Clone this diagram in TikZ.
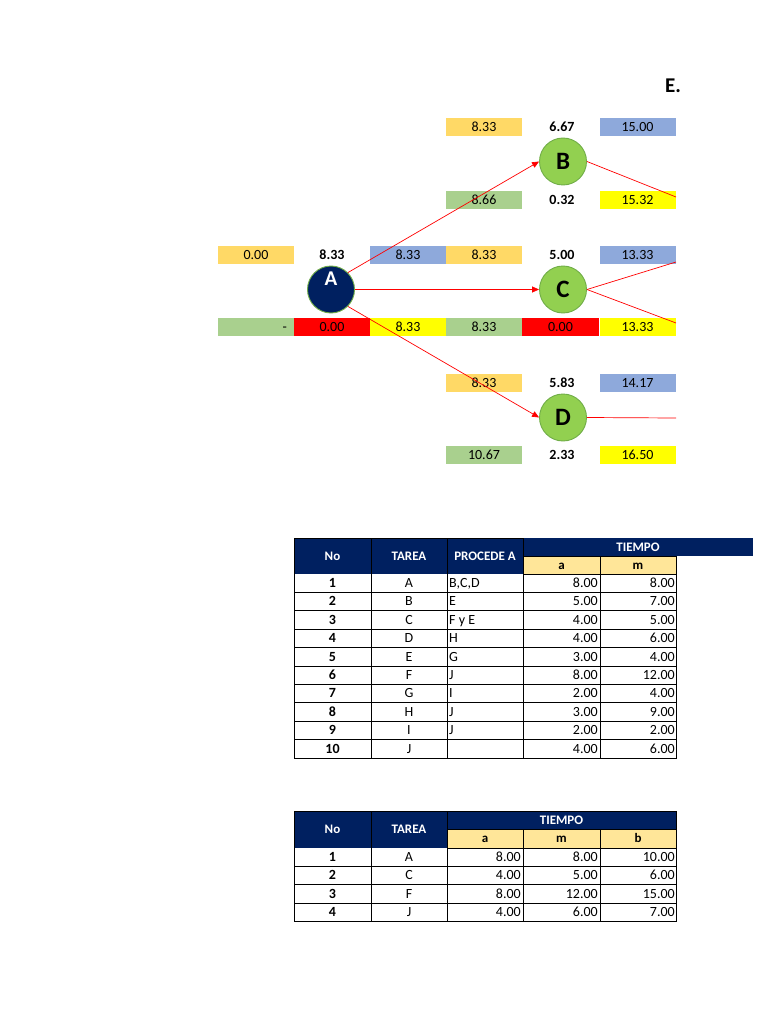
\documentclass[tikz,border=0pt]{standalone}
\usepackage{fontspec}
\setmainfont{Carlito}
\usetikzlibrary{arrows.meta,positioning}
\definecolor{marino}{HTML}{002060}
\definecolor{naranja}{HTML}{FFD966}
\definecolor{azul}{HTML}{8EA9DB}
\definecolor{verde}{HTML}{A9D08E}
\definecolor{amarillo}{HTML}{FFFF00}
\definecolor{rojo}{HTML}{FF0000}
\definecolor{verdenodo}{HTML}{92D050}
\definecolor{bordenodo}{HTML}{70AD47}
\definecolor{crema}{HTML}{FFE699}

\begin{document}
\begin{tikzpicture}[x=1pt, y=-1pt,
  caja/.style={minimum width=76pt, minimum height=18pt, inner sep=0pt, text height=8.5pt, text depth=0pt, font=\fontsize{14}{15}\selectfont},
  dato/.style={inner sep=0pt, text height=8.5pt, text depth=0pt, font=\fontsize{14}{15}\selectfont\bfseries},
  nodo/.style={circle, minimum size=47pt, inner sep=0pt, draw=bordenodo, line width=0.9pt, fill=verdenodo, font=\fontsize{25}{25}\selectfont\bfseries},
  flecha/.style={rojo, line width=0.7pt, -{Triangle[length=7pt,width=6pt]}},
  linea/.style={rojo, line width=0.7pt},
  encab/.style={inner sep=0pt, text height=8pt, text depth=0pt, font=\fontsize{13}{14}\selectfont\bfseries},
  celda/.style={inner sep=0pt, text height=8.5pt, text depth=0pt, font=\fontsize{14}{15}\selectfont},
  rejilla/.style={line width=0.8pt, black}
]
\useasboundingbox (0,0) rectangle (768,1024);

\node[anchor=base west, inner sep=0pt, font=\fontsize{21}{21}\selectfont\bfseries] (titulo) at (665,93) {E.};

% fila B
\node[caja, fill=naranja] (bIC) at (484,127) {8.33};
\node[dato] (bDur) at (562,127) {6.67};
\node[caja, fill=azul] (bTC) at (637.5,127) {15.00};
\node[caja, fill=verde] (bIL) at (484,200.5) {8.66};
\node[dato] (bHol) at (562,200.5) {0.32};
\node[caja, fill=amarillo] (bTL) at (637.5,200.5) {15.32};

% fila A y C
\node[caja, fill=naranja] (aIC) at (256,255) {0.00};
\node[dato] (aDur) at (332,255) {8.33};
\node[caja, fill=azul] (aTC) at (408,255) {8.33};
\node[caja, fill=verde] (aIL) at (256,327) {\makebox[62pt][r]{-}};
\node[caja, fill=rojo] (aHol) at (332,327) {0.00};
\node[caja, fill=amarillo] (aTL) at (408,327) {8.33};

\node[caja, fill=naranja] (cIC) at (484,255) {8.33};
\node[dato] (cDur) at (562,255) {5.00};
\node[caja, fill=azul] (cTC) at (637.5,255) {13.33};
\node[caja, fill=verde] (cIL) at (484,327) {8.33};
\node[caja, fill=rojo, minimum width=77pt] (cHol) at (560.5,327) {0.00};
\node[caja, fill=amarillo] (cTL) at (637.5,327) {13.33};

% fila D
\node[caja, fill=naranja] (dIC) at (484,383) {8.33};
\node[dato] (dDur) at (562,383) {5.83};
\node[caja, fill=azul] (dTC) at (637.5,383) {14.17};
\node[caja, fill=verde] (dIL) at (484,455) {10.67};
\node[dato] (dHol) at (562,455) {2.33};
\node[caja, fill=amarillo] (dTL) at (637.5,455) {16.50};

% nodos
\node[nodo, fill=marino] (A) at (331,289.5) {};
\node[inner sep=0pt, text=white, font=\fontsize{21}{21}\selectfont\bfseries] (Aletra) at (331,279) {A};
\node[nodo] (B) at (563,161.5) {B};
\node[nodo] (C) at (563,289.5) {C};
\node[nodo] (D) at (563,417.5) {D};

\coordinate (Bsal) at (676,197);
\coordinate (Csal1) at (676,262);
\coordinate (Csal2) at (676,323);
\coordinate (Dsal) at (676,418);

\draw[flecha] (A.north east) -- (B.west);
\draw[flecha] (A.east) -- (C.west);
\draw[flecha] (A.south east) -- (D.west);
\draw[linea] (B.east) -- (Bsal);
\draw[linea] (C.east) -- (Csal1);
\draw[linea] (C.east) -- (Csal2);
\draw[linea] (D.east) -- (Dsal);

% tabla 1
\fill[marino] (294,538) rectangle (523,574);
\fill[marino] (523,538) rectangle (753,556);
\fill[crema] (523,556) rectangle (676,574);
\draw[rejilla] (371,538) -- (371,574) (447,538) -- (447,574) (523,538) -- (523,574);
\draw[rejilla] (523,556) rectangle (676,574) (600,556) -- (600,574);
\node[encab, text=white] (t1No) at (332.5,556) {No};
\node[encab, text=white] (t1Tarea) at (409,556) {TAREA};
\node[encab, text=white] (t1Proc) at (485,556) {PROCEDE A};
\node[encab, text=white] (t1Tiempo) at (638,547) {TIEMPO};
\node[encab] (t1a) at (561.5,565) {a};
\node[encab] (t1m) at (638,565) {m};
\foreach \n/\t/\p/\a/\m [count=\i] in {1/A/{B,C,D}/8.00/8.00, 2/B/E/5.00/7.00, 3/C/F y E/4.00/5.00,
    4/D/H/4.00/6.00, 5/E/G/3.00/4.00, 6/F/J/8.00/12.00, 7/G/I/2.00/4.00,
    8/H/J/3.00/9.00, 9/I/J/2.00/2.00, 10/J/{}/4.00/6.00} {
  \node[celda, font=\fontsize{14}{15}\selectfont\bfseries] (t1n\i) at (332.5,{574+18.4*\i-9.2}) {\n};
  \node[celda] (t1t\i) at (409,{574+18.4*\i-9.2}) {\t};
  \node[celda, anchor=west] (t1p\i) at (449,{574+18.4*\i-9.2}) {\p};
  \node[celda, anchor=east] (t1a\i) at (598,{574+18.4*\i-9.2}) {\a};
  \node[celda, anchor=east] (t1m\i) at (675,{574+18.4*\i-9.2}) {\m};
  \draw[rejilla] (294,{574+18.4*\i}) -- (676,{574+18.4*\i});
}
\draw[rejilla] (523,538) -- (294,538) -- (294,758) -- (676,758) -- (676,556);
\draw[rejilla] (371,574) -- (371,758) (447,574) -- (447,758) (523,574) -- (523,758) (600,574) -- (600,758);

% tabla 2
\fill[marino] (294,811) rectangle (447,848);
\fill[marino] (447,811) rectangle (676,829);
\fill[crema] (447,829) rectangle (676,848);
\draw[rejilla] (371,811) -- (371,848) (447,811) -- (447,848);
\draw[rejilla] (447,829) rectangle (676,848) (523,829) -- (523,848) (600,829) -- (600,848);
\node[encab, text=white] (t2No) at (332.5,829.5) {No};
\node[encab, text=white] (t2Tarea) at (409,829.5) {TAREA};
\node[encab, text=white] (t2Tiempo) at (561.5,820) {TIEMPO};
\node[encab] (t2a) at (485,838.5) {a};
\node[encab] (t2m) at (561.5,838.5) {m};
\node[encab] (t2b) at (638,838.5) {b};
\foreach \n/\t/\a/\m/\b [count=\i] in {1/A/8.00/8.00/10.00, 2/C/4.00/5.00/6.00,
    3/F/8.00/12.00/15.00, 4/J/4.00/6.00/7.00} {
  \node[celda, font=\fontsize{14}{15}\selectfont\bfseries] (t2n\i) at (332.5,{848+18.4*\i-9.2}) {\n};
  \node[celda] (t2t\i) at (409,{848+18.4*\i-9.2}) {\t};
  \node[celda, anchor=east] (t2a\i) at (521,{848+18.4*\i-9.2}) {\a};
  \node[celda, anchor=east] (t2m\i) at (598,{848+18.4*\i-9.2}) {\m};
  \node[celda, anchor=east] (t2b\i) at (675,{848+18.4*\i-9.2}) {\b};
  \draw[rejilla] (294,{848+18.4*\i}) -- (676,{848+18.4*\i});
}
\draw[rejilla] (294,811) rectangle (676,921.6);
\draw[rejilla] (371,848) -- (371,921.6) (447,848) -- (447,921.6) (523,848) -- (523,921.6) (600,848) -- (600,921.6);
\end{tikzpicture}
\end{document}
